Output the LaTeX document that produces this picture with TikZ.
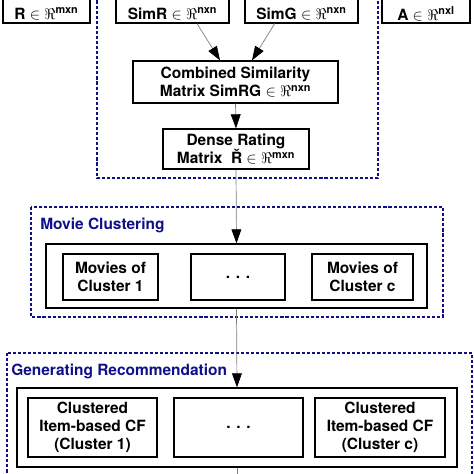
\documentclass[tikz,border=0pt]{standalone}
\usepackage{fontspec}
\setmainfont{TeX Gyre Heros}
\usetikzlibrary{arrows.meta, calc}

\definecolor{grpblue}{RGB}{15,15,135}
\definecolor{conngray}{RGB}{125,125,125}

\newcommand{\inRe}[1]{$\in\Re$\textsuperscript{#1}}

\begin{document}
\begin{tikzpicture}[x=0.025cm, y=-0.025cm, font=\fontsize{11}{13}\selectfont\bfseries,
    box/.style={draw, line width=0.9pt, fill=white, align=center, inner sep=1pt},
    boxsize/.style 2 args={minimum width=#1*\px, minimum height=#2*\px},
    group/.style={draw=grpblue, line width=1.4pt, dash pattern=on 2.2pt off 1.4pt},
    grouplabel/.style={text=grpblue, anchor=west, inner sep=0pt},
    conn/.style={draw=conngray, line width=0.5pt, -{Triangle[length=10pt, width=7pt, color=black, fill=black]}}]

    % Einheit: ein Pixel der Vorlage
    \def\px{0.025cm}

    \useasboundingbox (0,0) rectangle (474,474);
    \clip (0,0) rectangle (474,474);

    % --- Oberer Block (Aehnlichkeiten) ---
    \draw[group] (97,-40) rectangle (378,178);

    \node[box, boxsize={87}{38}] (rmat) at (46.5,4) {\strut\\ R \inRe{mxn}};
    \node[box, boxsize={113}{38}] (simr) at (172.5,4) {\strut\\ SimR \inRe{nxn}};
    \node[box, boxsize={113}{38}] (simg) at (301.5,4) {\strut\\ SimG \inRe{nxn}};
    \node[box, boxsize={88}{38}] (amat) at (426,4) {\strut\\ A \inRe{nxl}};

    \node[box, boxsize={205}{42}] (comb) at (235.5,82) {Combined Similarity\\ Matrix SimRG \inRe{nxn}};
    \node[box, boxsize={146}{40}] (dense) at (236,149) {Dense Rating\\ Matrix~ Ř \inRe{mxn}};

    % --- Movie Clustering ---
    \draw[group] (31,207) rectangle (443,317);
    \node[grouplabel] (clustlabel) at (40,225) {Movie Clustering};

    \node[box, boxsize={381}{64}] (clusin) at (236.5,276) {};
    \node[box, boxsize={95}{46}] (mov1) at (110.5,277) {Movies of\\ Cluster 1};
    \node[box, boxsize={94}{46}] (movdots) at (238,277) {. . .};
    \node[box, boxsize={101}{46}] (movc) at (362.5,277) {Movies of\\ Cluster c};

    % --- Generating Recommendation ---
    \draw[group] (7,353) rectangle (472,500);
    \node[grouplabel] (reclabel) at (11,371) {Generating Recommendation};

    \node[box, boxsize={440}{79}] (recin) at (237,427.5) {};
    \node[box, boxsize={129}{59}] (cf1) at (92.5,427.5) {Clustered\\ Item-based CF\\ (Cluster 1)};
    \node[box, boxsize={129}{59}] (cfdots) at (238.5,427.5) {. . .};
    \node[box, boxsize={130}{59}] (cfc) at (380,427.5) {Clustered\\ Item-based CF\\ (Cluster c)};

    % --- Verbindungen ---
    \draw[conn] ($(simr.south)!0.43!(simr.south east)$) -- ($(comb.north)!0.15!(comb.north west)$);
    \draw[conn] ($(simg.south)!0.47!(simg.south west)$) -- ($(comb.north)!0.16!(comb.north east)$);
    \draw[conn] (comb.south) -- (dense.north);
    \draw[conn] (dense.south) -- (clusin.north);
    \draw[conn] (clusin.south) -- (recin.north);
    \coordinate (bottomend) at (237,485);
    \draw[draw=conngray, line width=0.5pt] (recin.south) -- (bottomend);

\end{tikzpicture}
\end{document}
